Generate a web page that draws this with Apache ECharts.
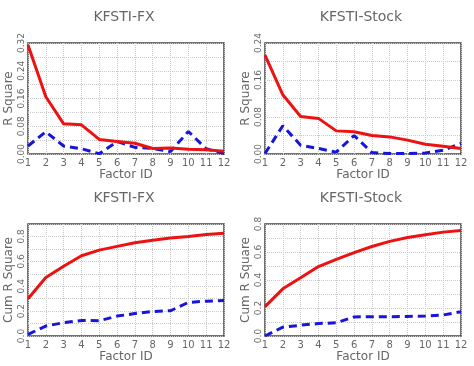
<!DOCTYPE html>
<html><head><meta charset="utf-8">
<script src="https://cdn.jsdelivr.net/npm/echarts@6/dist/echarts.min.js"></script>
<style>html,body{margin:0;padding:0;background:#fff}#c{width:474px;height:366px}</style>
</head><body><div id="c"></div>
<script>
const factors = [1,2,3,4,5,6,7,8,9,10,11,12];
const titles = ['KFSTI-FX','KFSTI-Stock','KFSTI-FX','KFSTI-Stock'];
const yNames = ['R Square','R Square','Cum R Square','Cum R Square'];
const xName = 'Factor ID';
const fxRed   = [0.314,0.165,0.087,0.084,0.042,0.036,0.031,0.016,0.017,0.014,0.012,0.008];
const fxBlue  = [0.023,0.064,0.023,0.015,0.001,0.036,0.019,0.016,0.007,0.065,0.015,0.001];
const stRed   = [0.214,0.128,0.081,0.077,0.050,0.048,0.040,0.037,0.030,0.021,0.017,0.012];
const stBlue  = [0.001,0.061,0.019,0.012,0.004,0.040,0.003,0.001,0.001,0.002,0.008,0.023];
const fxCumRed  = [0.30,0.47,0.56,0.645,0.69,0.72,0.75,0.77,0.787,0.80,0.815,0.825];
const fxCumBlue = [0.013,0.08,0.107,0.125,0.123,0.16,0.18,0.197,0.203,0.27,0.28,0.285];
const stCumRed  = [0.21,0.337,0.416,0.496,0.547,0.596,0.639,0.676,0.704,0.723,0.742,0.753];
const stCumBlue = [0.0,0.063,0.077,0.089,0.094,0.136,0.138,0.138,0.14,0.143,0.15,0.173];
const yMax = [0.32,0.24,0.9,0.8];
const yStep = [0.04,0.04,0.1,0.1];
const labelEvery = [0.08,0.08,0.2,0.2];
const labelDigits = [2,2,1,1];

const redSets = [fxRed, stRed, fxCumRed, stCumRed];
const blueSets = [fxBlue, stBlue, fxCumBlue, stCumBlue];

const grids = [
  {left:28, width:196, top:43, height:111},
  {left:265, width:196, top:43, height:111},
  {left:28, width:196, top:224, height:112},
  {left:265, width:196, top:224, height:112}
];
const txt = '#666';
const font = 'DejaVu Sans';
const option = {
  animation:false,
  backgroundColor:'#fff',
  grid: grids.map(g => Object.assign({show:true, borderColor:'#444', borderWidth:1.5, backgroundColor:'#fff'}, g)),
  xAxis: grids.map((g,i) => ({
    type:'value', gridIndex:i, min:1, max:12, interval:1,
    name:xName, nameLocation:'middle', nameGap:14,
    nameTextStyle:{color:txt, fontSize:12, fontFamily:font, letterSpacing:1},
    axisLine:{show:false}, axisTick:{show:false},
    axisLabel:{color:txt, fontSize:10, fontFamily:font, margin:4},
    splitLine:{show:true, lineStyle:{color:'#c8c8c8', type:'dotted', width:1}}
  })),
  yAxis: grids.map((g,i) => ({
    type:'value', gridIndex:i, min:0, max:yMax[i], interval:yStep[i],
    name:yNames[i], nameLocation:'middle', nameGap:13,
    nameTextStyle:{color:txt, fontSize:12, fontFamily:font, letterSpacing:1},
    axisLine:{show:false}, axisTick:{show:false},
    axisLabel:{color:txt, fontSize:9, fontFamily:font, rotate:90, margin:2,
      formatter: v => {
        const k = Math.round(v / labelEvery[i] * 1000) / 1000;
        return Math.abs(k - Math.round(k)) < 1e-6 ? v.toFixed(labelDigits[i]) : '';
      }},
    splitLine:{show:true, lineStyle:{color:'#c8c8c8', type:'dotted', width:1}}
  })),
  graphic: grids.map((g,i) => ({
    type:'text', x: g.left + g.width/2 - 2, y: g.top - 33,
    style:{text:titles[i], fill:txt, font:'14px "DejaVu Sans"', textAlign:'center'}
  })),
  series: []
};
for (let i = 0; i < 4; i++) {
  option.series.push({
    type:'line', xAxisIndex:i, yAxisIndex:i, showSymbol:false, symbol:'none',
    data: factors.map((f,j) => [f, redSets[i][j]]),
    lineStyle:{color:'#ee1111', width:3}, z:3
  });
  option.series.push({
    type:'line', xAxisIndex:i, yAxisIndex:i, showSymbol:false, symbol:'none',
    data: factors.map((f,j) => [f, blueSets[i][j]]),
    lineStyle:{color:'#1515dd', width:3, type:[8,5]}, z:2
  });
}
const chart = echarts.init(document.getElementById('c'), null, {renderer:'canvas'});
chart.setOption(option);
</script></body></html>
